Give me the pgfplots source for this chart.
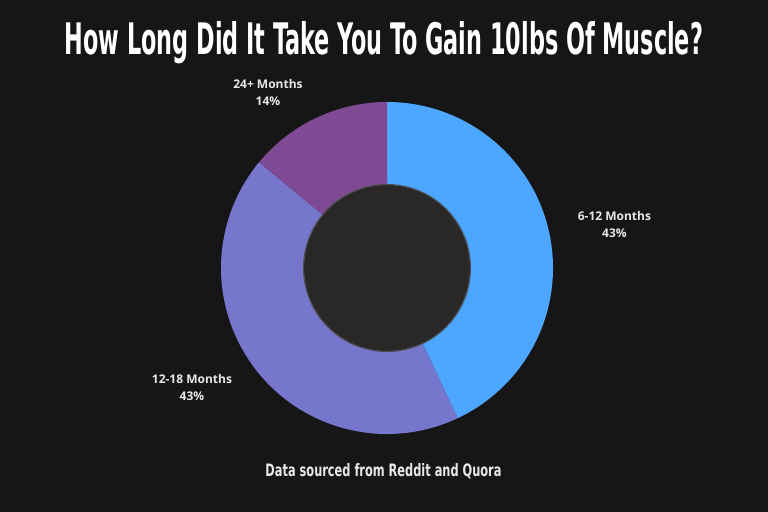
\documentclass[border=0pt]{standalone}
\usepackage{pgfplots}
\pgfplotsset{compat=1.18}
\usepackage{pgfplotstable}
\usepackage{graphicx}
\usepackage{fontspec}
\setmainfont{Open Sans}
\newfontfamily\titlefont{DejaVu Sans Condensed}

\definecolor{bg}{HTML}{161616}
\definecolor{hole}{HTML}{2A2826}
\definecolor{txt}{HTML}{E8E8E8}
\definecolor{sl0}{HTML}{4DA6FF}
\definecolor{sl1}{HTML}{7676CC}
\definecolor{sl2}{HTML}{7D4A93}

% share (%), label position in axis units
\pgfplotstableread{
value lx ly name
43 1.370 0.259 {6-12 Months}
43 -1.175 -0.717 {12-18 Months}
14 -0.717 1.057 {24+ Months}
}\slices

\begin{document}
\begin{tikzpicture}[x=1bp,y=1bp]
\fill[bg] (0,0) rectangle (768,512);

\node[anchor=base, text=white, inner sep=0] at (384,457)
  {\resizebox{638bp}{33bp}{\titlefont\bfseries How Long Did It Take You To Gain 10lbs Of Muscle?}};
\node[anchor=base, text=txt, inner sep=0] at (383.5,35)
  {\resizebox{236bp}{13bp}{\titlefont\bfseries Data sourced from Reddit and Quora}};

\begin{axis}[
    at={(387bp,244bp)}, anchor=center,
    scale only axis, width=332bp, height=332bp,
    xmin=-1, xmax=1, ymin=-1, ymax=1,
    hide axis, clip=false,
]
\def\start{90}
\pgfplotsforeachungrouped \i in {0,1,2}{%
  \pgfplotstablegetelem{\i}{value}\of\slices
  \let\val\pgfplotsretval
  \pgfmathsetmacro\stop{\start-3.6*\val}
  \pgfmathsetmacro\xa{cos(\start)}%
  \pgfmathsetmacro\ya{sin(\start)}%
  \edef\cmd{\noexpand\fill[sl\i] (axis cs:0,0) -- (axis cs:\xa,\ya)
    arc[start angle=\start, end angle=\stop, radius=166bp] -- cycle;}%
  \cmd
  \pgfplotstablegetelem{\i}{lx}\of\slices \let\lx\pgfplotsretval
  \pgfplotstablegetelem{\i}{ly}\of\slices \let\ly\pgfplotsretval
  \pgfplotstablegetelem{\i}{name}\of\slices \let\nm\pgfplotsretval
  \edef\cmd{\noexpand\node[align=center, text=txt, font=\noexpand\fontsize{12bp}{17bp}\noexpand\selectfont\noexpand\bfseries]
    at (axis cs:\lx,\ly) {\nm\noexpand\\\val\noexpand\%};}%
  \cmd
  \let\start\stop
}
\fill[hole] (axis cs:0,0) circle[radius=83bp];
\draw[black!70, line width=1bp] (axis cs:0,0) circle[radius=83.5bp];
\end{axis}
\end{tikzpicture}
\end{document}
